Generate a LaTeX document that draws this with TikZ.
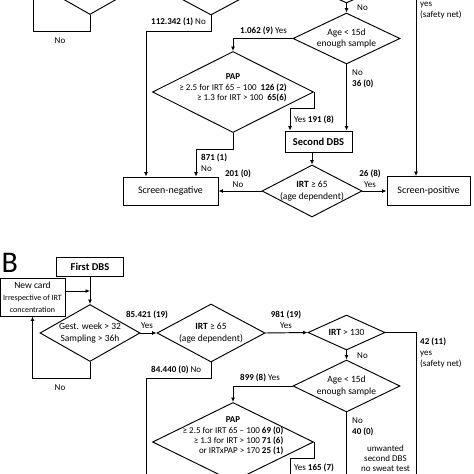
\documentclass[tikz,border=0pt]{standalone}
\usepackage{fontspec}
\setmainfont{Carlito}
\usetikzlibrary{shapes.geometric}
\usetikzlibrary{arrows.meta}

\tikzstyle{stepbox} = [draw=black, line width=0.95pt, rectangle, inner sep=0pt,
font=\fontsize{10}{12}\selectfont]
\tikzstyle{decision} = [draw=black, line width=0.95pt, diamond, inner sep=0pt]
\tikzstyle{dtext} = [inner sep=0pt, align=center, font=\fontsize{9.5}{11.5}\selectfont]
\tikzstyle{lbl} = [inner sep=0pt, align=left, font=\fontsize{9}{11}\selectfont]
\tikzstyle{conn} = [line width=0.95pt]
\tikzstyle{arr} = [line width=0.95pt, -{Latex[length=4.5pt, width=4pt]}]

\begin{document}
\begin{tikzpicture}[x=1pt, y=-1pt]
\useasboundingbox (0,0) rectangle (474,474);
\fill[white] (0,0) rectangle (474,474);
\clip (0,0) rectangle (474,474);

% panel A, lower part
\node[decision, minimum width=100pt, minimum height=57pt] (gestA) at (90,-14) {};
\node[decision, minimum width=108pt, minimum height=58pt] (irtA) at (211,-14) {};
\node[decision, minimum width=77pt, minimum height=35pt] (highA) at (346.5,-14.5) {};
\node[decision, minimum width=107pt, minimum height=51pt] (ageA) at (346.5,38.5) {};
\node[dtext] (ageAtxt) at (ageA) {Age < 15d\\enough sample};
\node[decision, minimum width=161pt, minimum height=81pt] (papA) at (233,92) {};
\node[dtext, font=\fontsize{9}{10}\selectfont] (papAtxt) at (233,88) {%
    \begin{tabular}{@{}r@{}}
    \multicolumn{1}{@{}c@{}}{\textbf{PAP}}\\[1pt]
    ≥ 2.5 for IRT 65 – 100\ \ \textbf{126 (2)}\\
    ≥ 1.3 for IRT > 100\ \ \textbf{65(6)}
    \end{tabular}};
\node[stepbox, font=\fontsize{10.5}{12}\selectfont\bfseries, minimum width=67pt, minimum height=21pt] (secondA) at (318.5,141.5) {Second DBS};
\node[decision, minimum width=100pt, minimum height=52pt] (retestA) at (312,191) {};
\node[dtext] (retestAtxt) at (retestA) {\textbf{IRT} ≥ 65\\(age dependent)};
\node[stepbox, minimum width=95pt, minimum height=28pt] (negA) at (170.5,191) {Screen-negative};
\node[stepbox, minimum width=83pt, minimum height=29pt] (posA) at (428.5,191) {Screen-positive};
\coordinate (cardA) at (33,-40);

\draw[arr] (gestA.south) -- ++(0,16) -| (cardA);
\draw[arr] (irtA.south) -- ++(0,16) -| ([xshift=-24.5pt]negA.north);
\draw[arr] (highA.south) -- (ageA.north);
\draw[arr] (highA.east) -| ([xshift=-12.5pt]posA.north);
\draw[arr] (ageA.west) -| (papA.north);
\draw[arr] (ageA.south) -- (ageA.south |- secondA.north);
\draw[arr] (papA.east) -- ++(0,16) -| ([xshift=-28.5pt]secondA.north);
\draw[arr] (papA.south) -- ++(0,16) -| ([xshift=25.5pt]negA.north);
\draw[arr] (secondA.south -| retestA.north) -- (retestA.north);
\draw[arr] (retestA.west) -- (negA.east);
\draw[arr] (retestA.east) -- (posA.west);

\node[lbl] (gestNoA) at (60,41) {No};
\node[lbl, anchor=west] (irtNoA) at (151,22) {\textbf{112.342 (1)} No};
\node[lbl, anchor=west] (highNoA) at (357,8) {No};
\node[lbl, anchor=west] (safeA) at (420,10.5) {yes\\(safety net)};
\node[lbl, anchor=west] (ageYesA) at (240,31) {\textbf{1.062 (9)} Yes};
\node[lbl, anchor=west] (ageNoA) at (352,78.5) {No\\\textbf{36 (0)}};
\node[lbl, anchor=west] (papYesA) at (294,120) {Yes \textbf{191 (8)}};
\node[lbl, anchor=west] (papNoA) at (201,162.5) {\textbf{871 (1)}\\No};
\node[lbl, align=center] (retestNoA) at (238,178.5) {\textbf{201 (0)}\\No};
\node[lbl, align=center] (retestYesA) at (370,178.5) {\textbf{26 (8)}\\Yes};

% panel B, upper part
\node[anchor=base west, font=\fontsize{30}{30}\selectfont] (panelB) at (-2,272) {B};
\node[stepbox, font=\fontsize{10.5}{12}\selectfont\bfseries, minimum width=67pt, minimum height=19pt] (firstB) at (90,266.5) {First DBS};
\node[stepbox, align=center, minimum width=65pt, minimum height=38pt] (cardB) at (32.5,297) {%
    {\fontsize{9.5}{11}\selectfont New card}\\
    {\fontsize{8}{10}\selectfont Irrespective of IRT}\\
    {\fontsize{8}{9}\selectfont concentration}};
\node[decision, minimum width=100pt, minimum height=57pt] (gestB) at (90,333) {};
\node[dtext] (gestBtxt) at (gestB) {Gest. week > 32\\Sampling > 36h};
\node[decision, minimum width=108pt, minimum height=58pt] (irtB) at (211,333) {};
\node[dtext] (irtBtxt) at (irtB) {\textbf{IRT} ≥ 65\\(age dependent)};
\node[decision, minimum width=77pt, minimum height=35pt] (highB) at (346.5,332.5) {};
\node[dtext] (highBtxt) at (highB) {\textbf{IRT} > 130};
\node[decision, minimum width=107pt, minimum height=52pt] (ageB) at (346.5,386) {};
\node[dtext] (ageBtxt) at (ageB) {Age < 15d\\enough sample};
\node[decision, minimum width=161pt, minimum height=79pt] (papB) at (233,442) {};
\node[dtext, font=\fontsize{9}{10}\selectfont] (papBtxt) at (233,436) {%
    \begin{tabular}{@{}r@{}}
    \multicolumn{1}{@{}c@{}}{\textbf{PAP}}\\[1pt]
    ≥ 2.5 for IRT 65 – 100 \textbf{69 (0)}\\
    ≥ 1.3 for IRT > 100 \textbf{71 (6)}\\
    or IRTxPAP > 170 \textbf{25 (1)}
    \end{tabular}};
\coordinate (secondB1) at (290,479);
\coordinate (secondB2) at (346.5,479);
\coordinate (negB) at (146,490);
\coordinate (posB) at (416,490);

\draw[arr] (firstB.south) -- (gestB.north);
\draw[arr] ([yshift=6pt]cardB.east) -- ([yshift=6pt]cardB.east -| gestB.north);
\draw[arr] (gestB.south) -- ++(0,16) -| (cardB.south);
\draw[arr] (gestB.east) -- (irtB.west);
\draw[conn] (irtB.south) -- ++(0,16) -| (negB);
\draw[arr] (irtB.east) -- (highB.west);
\draw[conn] (highB.east) -| (posB);
\draw[arr] (highB.south) -- (ageB.north);
\draw[arr] (ageB.west) -| (papB.north);
\draw[arr] (ageB.south) -- (secondB2);
\draw[arr] (papB.east) -- ++(0,16) -| (secondB1);

\node[lbl, align=center] (gestYesB) at (147,319.5) {\textbf{85.421 (19)}\\Yes};
\node[lbl] (gestNoB) at (60,388) {No};
\node[lbl, align=center] (irtYesB) at (286,319.5) {\textbf{981 (19)}\\Yes};
\node[lbl, anchor=west] (irtNoB) at (151,370) {\textbf{84.440 (0)} No};
\node[lbl, anchor=west] (safeB) at (420,353) {\textbf{42 (11)}\\yes\\(safety net)};
\node[lbl, anchor=west] (highNoB) at (357,356) {No};
\node[lbl, anchor=west] (ageYesB) at (240,378) {\textbf{899 (8)} Yes};
\node[lbl, anchor=west] (ageNoB) at (352,427) {No\\\textbf{40 (0)}};
\node[lbl, align=center, font=\fontsize{9}{10}\selectfont] (unwantedB) at (385.5,458) {unwanted\\second DBS\\no sweat test};
\node[lbl, anchor=west] (papYesB) at (294,468) {Yes \textbf{165 (7)}};
\end{tikzpicture}
\end{document}
